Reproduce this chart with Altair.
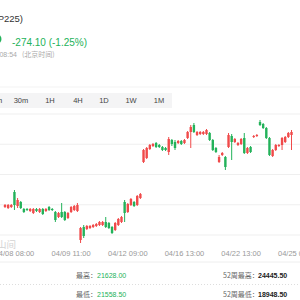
import altair as alt
import pandas as pd

# ---- candle data (index order) ----
opens = [20930, 20920, 20930, 21080, 20940, 20980, 20910, 20910, 20890, 20870,
         20910, 20880, 20910, 20890, 20930, 20910, 20880, 20830, 20880, 20880,
         20820, 20880, 20900, 20890, 20600, 20730, 20710, 20720, 20730, 20740,
         20750, 20750, 20780, 20770, 20730, 20700, 20750, 20780, 20980, 20880,
         20950, 20980, 20950, 21020, 21380, 21420, 21510, 21540, 21570, 21550,
         21530, 21520, 21480, 21600, 21580, 21570, 21590, 21570, 21620, 21680,
         21750, 21650, 21660, 21660, 21660, 21670, 21600, 21520, 21380, 21450,
         21430, 21530, 21640, 21580, 21550, 21560, 21620, 21470, 21530, 21630,
         21640, 21780, 21760, 21720, 21620, 21440, 21500, 21540, 21550, 21580,
         21630, 21650]
closes = [20950, 20950, 20950, 20950, 21000, 20920, 20880, 20900, 20910, 20910,
          20890, 20910, 20860, 20910, 20900, 20900, 20800, 20870, 20830, 20800,
          20870, 20930, 20940, 20950, 20720, 20640, 20740, 20740, 20750, 20760,
          20780, 20780, 20730, 20720, 20670, 20770, 20810, 20830, 20870, 20960,
          21010, 20940, 21040, 21060, 21500, 21520, 21550, 21560, 21530, 21530,
          21500, 21500, 21610, 21560, 21520, 21590, 21560, 21600, 21680, 21730,
          21680, 21680, 21680, 21680, 21700, 21600, 21500, 21480, 21430, 21470,
          21330, 21650, 21580, 21610, 21570, 21610, 21470, 21520, 21480, 21640,
          21650, 21750, 21720, 21620, 21450, 21500, 21550, 21550, 21620, 21630,
          21670, 21680]
highs = [20960, 20960, 20960, 21100, 21020, 20990, 20920, 20920, 20920, 20920,
         20920, 20920, 20920, 20920, 20940, 20920, 20890, 20880, 20970, 20890,
         20880, 20940, 20950, 20970, 20730, 20750, 20750, 20750, 20760, 20770,
         20790, 20790, 20830, 20780, 20740, 20780, 20820, 20840, 21000, 20970,
         21020, 20990, 21050, 21070, 21510, 21530, 21560, 21570, 21580, 21560,
         21540, 21530, 21630, 21610, 21600, 21600, 21600, 21610, 21690, 21750,
         21770, 21690, 21690, 21690, 21710, 21680, 21610, 21530, 21450, 21480,
         21440, 21670, 21660, 21620, 21580, 21620, 21670, 21530, 21540, 21650,
         21660, 21800, 21770, 21730, 21630, 21510, 21560, 21560, 21630, 21640,
         21680, 21700]
lows = [20920, 20910, 20920, 20900, 20920, 20910, 20870, 20890, 20880, 20860,
        20880, 20870, 20850, 20880, 20890, 20890, 20780, 20820, 20820, 20790,
        20810, 20870, 20890, 20880, 20570, 20620, 20700, 20710, 20720, 20730,
        20740, 20740, 20720, 20710, 20660, 20690, 20740, 20770, 20780, 20870,
        20940, 20930, 20940, 21010, 21370, 21410, 21500, 21530, 21520, 21520,
        21490, 21490, 21450, 21540, 21500, 21560, 21550, 21560, 21610, 21520,
        21670, 21640, 21650, 21650, 21650, 21590, 21490, 21470, 21370, 21440,
        21300, 21520, 21400, 21570, 21540, 21550, 21460, 21460, 21470, 21620,
        21630, 21740, 21710, 21610, 21440, 21430, 21490, 21530, 21500, 21570,
        21620, 21500]

date_idx = [3, 21, 39, 57, 75, 93]
date_labels = ["04/08 08:00", "04/09 11:00", "04/12 09:00",
               "04/16 13:00", "04/22 13:00", "04/25 09:00"]
grid_values = [20650, 20952.5, 21255, 21557.5, 21860]

tab_labels = ["15m", "30m", "1H", "4H", "1D", "1W", "1M"]

RED = "#f04a4a"
GREEN = "#23b25a"
LATIN = "Liberation Sans"
CJK = "Noto Sans CJK SC"

df = pd.DataFrame({"idx": list(range(len(opens))), "open": opens,
                   "close": closes, "high": highs, "low": lows})
df["dir"] = ["up" if c >= o else "down" for o, c in zip(opens, closes)]

xs = alt.Scale(domain=[0, 91], range=[0, 296.5])
ys = alt.Scale(domain=[20650, 21860], range=[235, 114], zero=False)
color = alt.Color("dir:N", scale=alt.Scale(domain=["up", "down"], range=[RED, GREEN]), legend=None)

one = pd.DataFrame({"a": [0]})


def txt(text, x, y, size, col, align="left", weight="normal", font=LATIN, baseline="alphabetic"):
    return alt.Chart(pd.DataFrame({"t": [text]})).mark_text(
        align=align, baseline=baseline, fontSize=size, color=col,
        fontWeight=weight, font=font
    ).encode(x=alt.value(x), y=alt.value(y), text="t:N")


def hline(y, col, dash=None):
    kw = {"color": col, "strokeWidth": 1}
    if dash:
        kw["strokeDash"] = dash
    return alt.Chart(one).mark_rule(**kw).encode(
        x=alt.value(0), x2=alt.value(300), y=alt.value(y))


layers = []
# header
layers.append(txt("(JP225)", 23, 21.5, 9.5, "#333333", align="right"))
layers.append(alt.Chart(one).mark_circle(color=GREEN, opacity=1, size=120).encode(
    x=alt.value(-4), y=alt.value(39)))
layers.append(txt("-274.10 (-1.25%)", 12, 45.5, 10, GREEN))
layers.append(txt("10:08:54", 17, 57, 7, "#aaaaaa", align="right"))
layers.append(txt("(北京时间)", 22, 57, 7, "#aaaaaa", font=CJK))
# tab bar
layers.append(hline(87, "#f3f3f3"))
layers.append(alt.Chart(one).mark_rect(color="#f4f4f5").encode(
    x=alt.value(0), x2=alt.value(172), y=alt.value(93), y2=alt.value(108)))
for lab, cx in zip(tab_labels, [-5, 21, 50, 78, 104, 131, 159]):
    layers.append(txt(lab, cx, 101, 7.5, "#444444", align="center", baseline="middle"))

# grid
grid = alt.Chart(pd.DataFrame({"g": grid_values})).mark_rule(color="#efefef", strokeWidth=1).encode(
    y=alt.Y("g:Q", scale=ys, axis=None), x=alt.value(0), x2=alt.value(300))
layers.append(grid)

base = alt.Chart(df)
wicks = base.mark_rule(strokeWidth=1).encode(
    x=alt.X("idx:Q", scale=xs, axis=None),
    y=alt.Y("low:Q", scale=ys, axis=None),
    y2="high:Q",
    color=color,
)
bodies = base.mark_bar(size=2.4).encode(
    x=alt.X("idx:Q", scale=xs, axis=None),
    y=alt.Y("open:Q", scale=ys, axis=None),
    y2="close:Q",
    color=color,
)
layers += [wicks, bodies]

# watermark
layers.append(txt("山间", 16, 248, 9.5, "#d3d3d3", align="right", font=CJK))

# date labels
dates = alt.Chart(pd.DataFrame({"i": date_idx, "t": date_labels})).mark_text(
    fontSize=7.5, color="#999999", font=LATIN, baseline="middle", align="center"
).encode(x=alt.X("i:Q", scale=xs, axis=None), y=alt.value(254), text="t:N")
layers.append(dates)

# stats block
layers.append(hline(262, "#eeeeee"))
layers.append(hline(284.5, "#dddddd", dash=[1, 2]))
layers.append(txt("最高：", 76, 278, 7, "#666666", font=CJK))
layers.append(txt("21628.00", 97, 278, 7, GREEN))
layers.append(txt("52周最高：", 223, 278, 7, "#666666", font=CJK))
layers.append(txt("24445.50", 258, 278, 7, "#222222", weight="bold"))
layers.append(txt("最低：", 76, 297, 7, "#666666", font=CJK))
layers.append(txt("21558.50", 97, 297, 7, GREEN))
layers.append(txt("52周最低：", 223, 297, 7, "#666666", font=CJK))
layers.append(txt("18948.50", 258, 297, 7, "#222222", weight="bold"))

chart = alt.layer(*layers).properties(
    width=300, height=300, padding=0,
    autosize=alt.AutoSizeParams(type="none"),
    background="white",
).configure_view(strokeWidth=0)

chart.save("out.html", embed_options={"renderer": "svg", "actions": False})
